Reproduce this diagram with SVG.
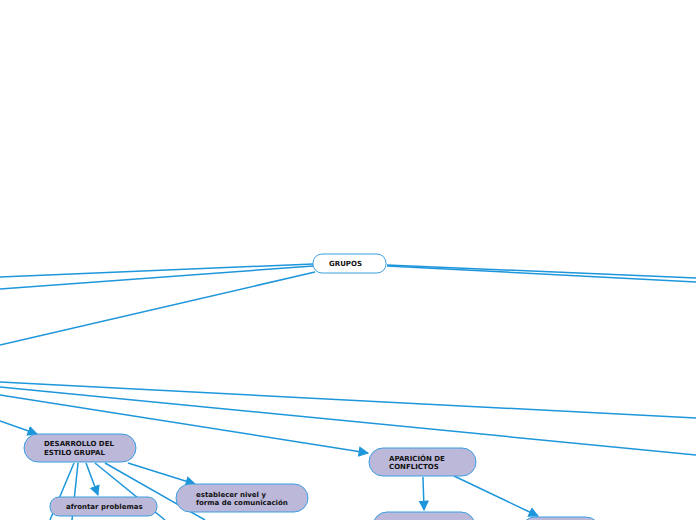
<svg xmlns="http://www.w3.org/2000/svg" width="696" height="520" viewBox="0 0 696 520">
<style>
.c{stroke:#1e96dc;stroke-width:1.5;fill:none}
.n{fill:#bcb8da;stroke:#3a9ee0;stroke-width:1}
.t{font-family:"DejaVu Sans",sans-serif;font-size:7px;font-weight:bold;fill:#111}
</style>
<defs><marker id="a" viewBox="0 0 10 10" refX="9" refY="5" markerWidth="7" markerHeight="7" orient="auto"><path d="M0,0L10,5L0,10z" fill="#1e96dc"/></marker></defs>
<g id="connectors">
<path class="c" d="M313,264L0,277"/>
<path class="c" d="M313,266L0,289"/>
<path class="c" d="M315,272L0,345"/>
<path class="c" d="M387,265L696,278"/>
<path class="c" d="M387,266L696,282"/>
<path class="c" d="M0,382L696,418"/>
<path class="c" d="M0,387L696,455"/>
<path class="c" d="M0,395L368,453" marker-end="url(#a)"/>
<path class="c" d="M0,421L37,434" marker-end="url(#a)"/>
<path class="c" d="M74,463L50,520"/>
<path class="c" d="M78,463L72,520"/>
<path class="c" d="M86,463L98,495" marker-end="url(#a)"/>
<path class="c" d="M95,463L165,520"/>
<path class="c" d="M105,463L205,520"/>
<path class="c" d="M128,463L195,484" marker-end="url(#a)"/>
<path class="c" d="M423,477L424,510" marker-end="url(#a)"/>
<path class="c" d="M454,476L538,516" marker-end="url(#a)"/>
</g>
<g id="grupos"><rect x="313" y="254" width="73" height="19" rx="9" fill="#fff" stroke="#3a9ee0"/><text class="t" x="329" y="266">GRUPOS</text></g>
<g id="desarrollo"><rect class="n" x="24" y="434" width="112" height="28" rx="14"/><text class="t" x="44" y="446">DESARROLLO DEL</text><text class="t" x="44" y="455">ESTILO GRUPAL</text></g>
<g id="establecer"><rect class="n" x="176" y="484" width="132" height="28" rx="14"/><text class="t" x="196" y="497">establecer nivel y</text><text class="t" x="196" y="505">forma de comunicación</text></g>
<g id="afrontar"><rect class="n" x="50" y="497" width="107" height="19" rx="9"/><text class="t" x="66" y="509">afrontar problemas</text></g>
<g id="aparicion"><rect class="n" x="369" y="448" width="107" height="28" rx="14"/><text class="t" x="389" y="461">APARICIÓN DE</text><text class="t" x="389" y="469">CONFLICTOS</text></g>
<g id="n5"><rect class="n" x="373" y="512" width="102" height="28" rx="14"/></g>
<g id="n6"><rect class="n" x="521" y="517" width="79" height="28" rx="14"/></g>
</svg>
